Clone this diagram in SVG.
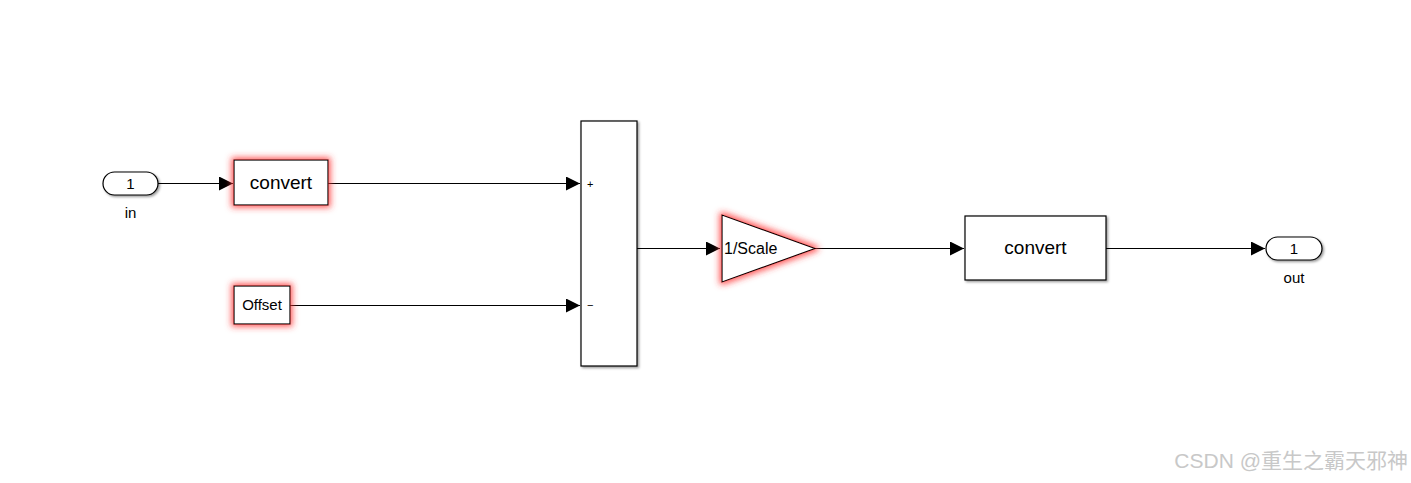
<svg xmlns="http://www.w3.org/2000/svg" width="1411" height="483" viewBox="0 0 1411 483">
<style>
.b{fill:#fff;stroke:#000;stroke-width:1.2}
.t{font-family:"Liberation Sans",Arial,sans-serif;fill:#000}
.w{stroke:#000;stroke-width:1;fill:none}
</style>
<defs>
<filter id="glow" x="-30%" y="-30%" width="160%" height="160%"><feMorphology in="SourceAlpha" operator="dilate" radius="2" result="d"/><feGaussianBlur in="d" stdDeviation="3" result="b"/><feFlood flood-color="#f33" flood-opacity="0.8"/><feComposite in2="b" operator="in"/><feMerge><feMergeNode/><feMergeNode in="SourceGraphic"/></feMerge></filter>
<filter id="sh" x="-10%" y="-10%" width="130%" height="130%"><feDropShadow dx="1.5" dy="1.5" stdDeviation="0.8" flood-color="#000" flood-opacity="0.4"/></filter>
<marker id="a" viewBox="0 0 10 10" refX="10" refY="5" markerWidth="14" markerHeight="14" markerUnits="userSpaceOnUse" orient="auto"><path d="M0,0L10,5L0,10z" fill="#000"/></marker>
</defs>
<rect width="1411" height="483" fill="#fff"/>
<g id="connectors">
<path class="w" d="M158,183.5H233" marker-end="url(#a)"/>
<path class="w" d="M328,183.5H580" marker-end="url(#a)"/>
<path class="w" d="M290,305.5H580" marker-end="url(#a)"/>
<path class="w" d="M637,248.5H720" marker-end="url(#a)"/>
<path class="w" d="M815,248.5H964" marker-end="url(#a)"/>
<path class="w" d="M1106,248.5H1265" marker-end="url(#a)"/>
</g>
<g id="in"><rect class="b" x="103" y="172" width="55" height="23" rx="11.5" filter="url(#sh)"/><text class="t" x="130.5" y="189" font-size="15" text-anchor="middle">1</text><text class="t" x="130.5" y="218" font-size="15" text-anchor="middle">in</text></g>
<g id="convert1"><rect class="b" x="234" y="160" width="94" height="45" filter="url(#glow)"/><text class="t" x="281" y="189" font-size="19" text-anchor="middle">convert</text></g>
<g id="offset"><rect class="b" x="234" y="286" width="56" height="38" filter="url(#glow)"/><text class="t" x="262" y="310" font-size="15" text-anchor="middle">Offset</text></g>
<g id="sum"><rect class="b" x="581" y="121" width="56" height="245" filter="url(#sh)"/><text class="t" x="587" y="188" font-size="11">+</text><text class="t" x="587" y="309" font-size="11">−</text></g>
<g id="gain"><path class="b" d="M722,215L815,248.5L722,282Z" filter="url(#glow)"/><text class="t" x="724" y="254" font-size="16">1/Scale</text></g>
<g id="convert2"><rect class="b" x="965" y="216" width="141" height="64" filter="url(#sh)"/><text class="t" x="1035.5" y="254" font-size="19" text-anchor="middle">convert</text></g>
<g id="out"><rect class="b" x="1266" y="237" width="56" height="23" rx="11.5" filter="url(#sh)"/><text class="t" x="1294" y="254" font-size="15" text-anchor="middle">1</text><text class="t" x="1294" y="283" font-size="15" text-anchor="middle">out</text></g>
<text x="1408" y="468" font-size="21" text-anchor="end" fill="#c8c8c8" font-family="'Liberation Sans','Noto Sans CJK SC',sans-serif">CSDN @重生之霸天邪神</text>
</svg>
